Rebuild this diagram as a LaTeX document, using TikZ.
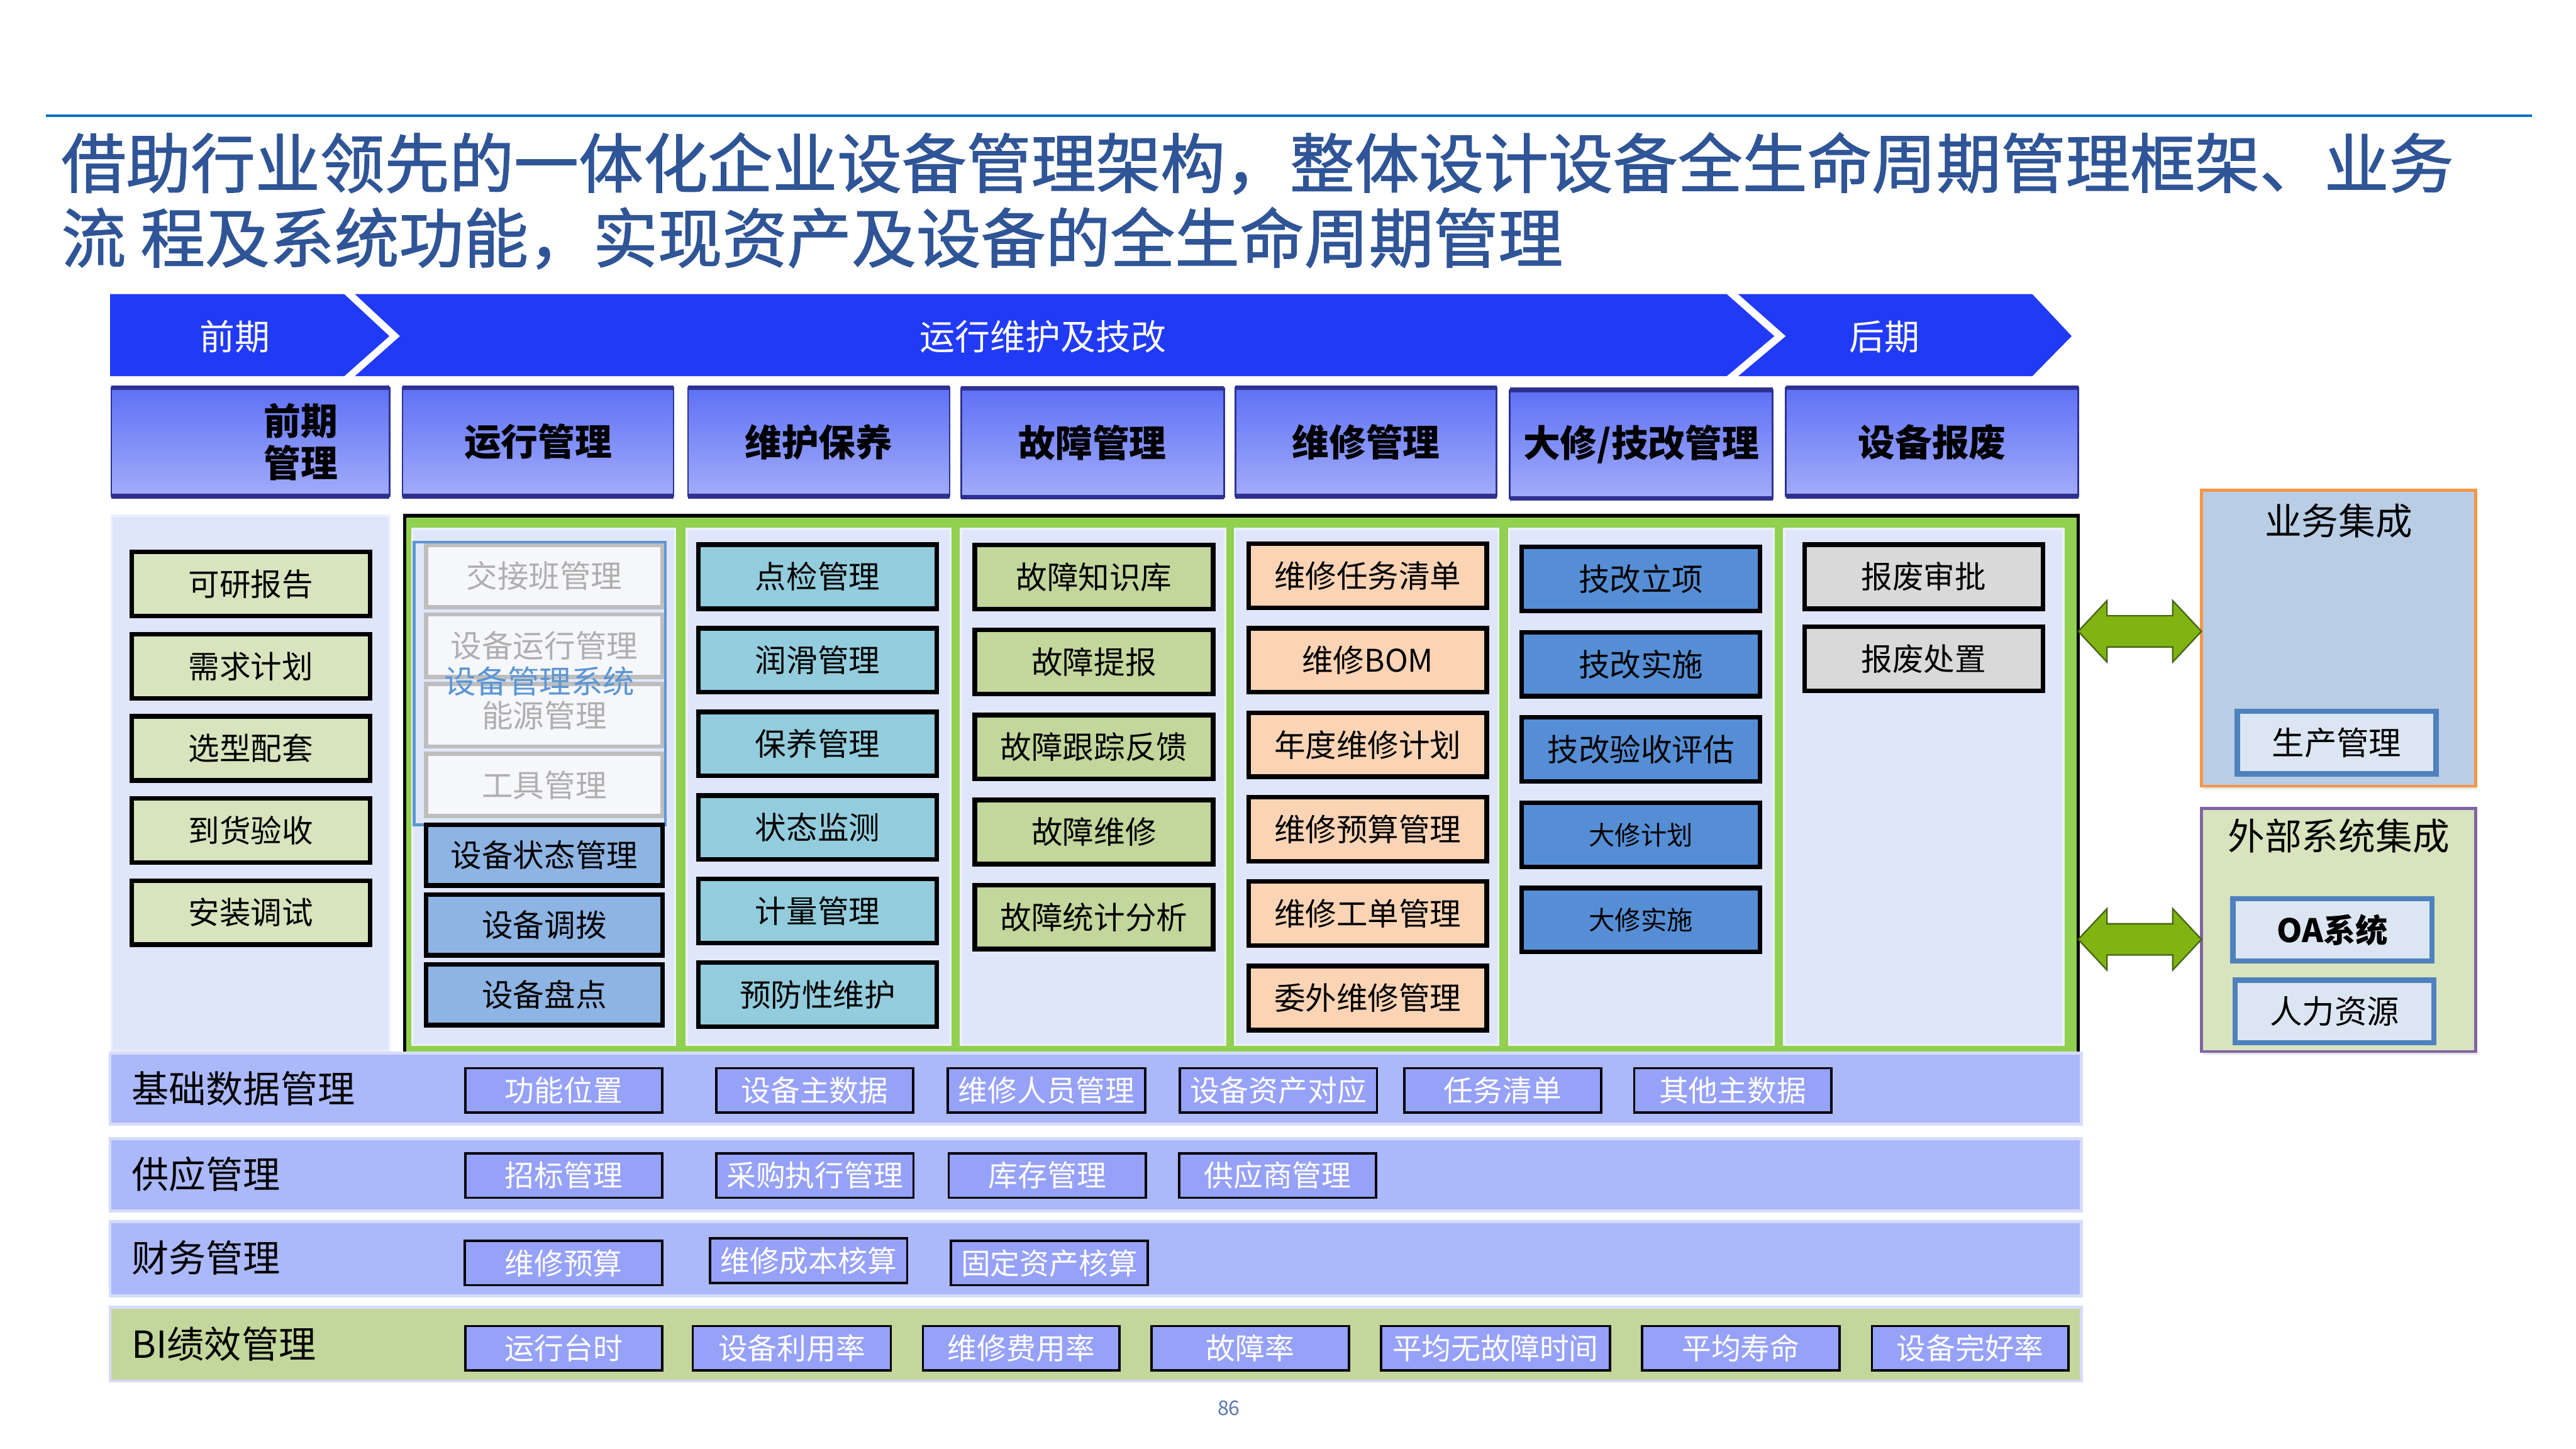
\documentclass[tikz,border=0pt]{standalone}
\usepackage{fontspec}
\setmainfont{Noto Sans CJK SC}
\newfontfamily\titlefont{Noto Sans CJK SC}[FakeBold=1.3]
\usetikzlibrary{calc,shadows}

\definecolor{titleblue}{RGB}{47,85,151}
\definecolor{lineblue}{RGB}{0,112,192}
\definecolor{chevblue}{RGB}{33,58,246}
\definecolor{headtop}{RGB}{94,113,245}
\definecolor{headbot}{RGB}{162,172,249}
\definecolor{headline}{RGB}{46,49,146}
\definecolor{panelbg}{RGB}{224,230,250}
\definecolor{paneledge}{RGB}{236,240,253}
\definecolor{framegreen}{RGB}{146,208,80}
\definecolor{qqfill}{RGB}{215,228,189}
\definecolor{grayfill}{RGB}{246,247,251}
\definecolor{grayedge}{RGB}{190,190,190}
\definecolor{graytext}{RGB}{175,175,175}
\definecolor{sysblue}{RGB}{91,150,213}
\definecolor{yxfill}{RGB}{142,180,227}
\definecolor{whfill}{RGB}{147,205,221}
\definecolor{gzfill}{RGB}{195,214,155}
\definecolor{wxfill}{RGB}{251,212,181}
\definecolor{dxfill}{RGB}{85,142,213}
\definecolor{bffill}{RGB}{217,217,217}
\definecolor{rowfill}{RGB}{171,184,250}
\definecolor{rowedge}{RGB}{214,220,250}
\definecolor{cellfill}{RGB}{150,161,248}
\definecolor{bifill}{RGB}{195,214,155}
\definecolor{bizfill}{RGB}{185,205,229}
\definecolor{bizedge}{RGB}{247,150,70}
\definecolor{subfill}{RGB}{220,230,242}
\definecolor{subedge}{RGB}{79,129,189}
\definecolor{extfill}{RGB}{215,228,189}
\definecolor{extedge}{RGB}{128,100,162}
\definecolor{arrowgreen}{RGB}{128,180,18}
\definecolor{arrowedge}{RGB}{70,100,20}
\definecolor{pagegray}{RGB}{90,120,170}

\begin{document}
\begin{tikzpicture}[x=0.02cm, y=-0.02cm,
    sz/.style 2 args={minimum width=(#1)*0.02cm, minimum height=(#2)*0.02cm, inner sep=0pt, outer sep=0pt},
    phase/.style={fill=chevblue},
    phasetext/.style={text=white, font=\fontsize{12.2}{14}\selectfont},
    head/.style={sz={#1}{66}, top color=headtop, bottom color=headbot, draw=headline, line width=0.6pt},
    headtext/.style={font=\fontsize{12.8}{14.8}\selectfont\bfseries, align=center},
    panel/.style={fill=panelbg, draw=paneledge, line width=0.8pt},
    item/.style={sz={145}{39}, draw=black, line width=1.6pt, font=\fontsize{10.8}{13}\selectfont},
    grayitem/.style={sz={144}{38}, fill=grayfill, draw=grayedge, line width=1.5pt, text=graytext, font=\fontsize{10.8}{13}\selectfont},
    rowbar/.style={sz={1200}{#1}, fill=rowfill, draw=rowedge, line width=1pt},
    rowlabel/.style={anchor=west, inner sep=0pt, font=\fontsize{12.9}{15}\selectfont},
    cell/.style={sz={#1}{27}, fill=cellfill, draw=black, line width=0.8pt, text=white, font=\fontsize{10.2}{12}\selectfont},
    cell/.default=120,
    intbox/.style={sz={167}{#1}, line width=1pt, drop shadow={opacity=0.2, shadow xshift=0.6pt, shadow yshift=-1.2pt}},
    intitle/.style={font=\fontsize{12.8}{15}\selectfont},
    subsys/.style={sz={121}{38}, fill=subfill, draw=subedge, line width=1.8pt, font=\fontsize{11.2}{13}\selectfont},
    fatarrow/.style={fill=arrowgreen, draw=arrowedge, line width=0.5pt, line join=miter},
    titletext/.style={anchor=west, inner sep=0pt, text=titleblue, font=\fontsize{22.4}{26}\titlefont}
  ]
  \useasboundingbox (0,0) rectangle (1568,882);

  % title
  \draw[lineblue, line width=0.8pt] (28,70.5) -- (1541,70.5);
  \node[titletext] (title1) at (37,99.5) {借助行业领先的一体化企业设备管理架构，整体设计设备全生命周期管理框架、业务};
  \node[titletext] (title2) at (37,145) {流 程及系统功能，实现资产及设备的全生命周期管理};

  % phases
  \fill[phase] (67,179) -- (209.5,179) -- (237,204.6) -- (209.5,229) -- (67,229) -- cycle;
  \fill[phase] (216,179) -- (1051,179) -- (1080,204.6) -- (1051,229) -- (216,229) -- (243.5,204.6) -- cycle;
  \fill[phase] (1058,179) -- (1237,179) -- (1261,204.6) -- (1237,229) -- (1058,229) -- (1087,204.6) -- cycle;
  \node[phasetext] (ph1) at (143,205) {前期};
  \node[phasetext] (ph2) at (635,205) {运行维护及技改};
  \node[phasetext] (ph3) at (1147,205) {后期};

  % module headers
  \node[head=169.3] (hd1) at (152.4,269) {};
  \node[headtext] (hd1t) at (183,269) {前期\\管理};
  \node[head=165, headtext] (hd2) at (327.5,269) {运行管理};
  \node[head=159.3, headtext] (hd3) at (498.4,269) {维护保养};
  \node[head=160, headtext] (hd4) at (665,269.5) {故障管理};
  \node[head=159, headtext] (hd5) at (831.5,269) {维修管理};
  \node[head=160, headtext] (hd6) at (999,270.4) {大修/技改管理};
  \node[head=178, headtext] (hd7) at (1176,269) {设备报废};
  \foreach \h in {hd1,hd2,hd3,hd4,hd5,hd6,hd7}
    \draw[headline, line width=1.6pt] (\h.north west) -- (\h.north east) (\h.south west) -- (\h.south east);

  % early stage
  \node[panel, sz={169}{326}] (qqpanel) at (152.5,477) {};
  \foreach \t [count=\i] in {可研报告,需求计划,选型配套,到货验收,安装调试}
    \node[item, fill=qqfill] (qq\i) at (152.7,{355.5+50*(\i-1)}) {\t};

  % operation frame
  \node[fill=framegreen, sz={1018.6}{326}] (main) at (755.7,477) {};
  \draw[black, line width=1.2pt] (main.south west) -- (main.north west) -- (main.north east) -- (main.south east);
  \foreach \a/\b [count=\i] in {251/411, 418/578.6, 585/745.8, 751.6/912, 918.5/1079.7, 1086/1256}
    \node[panel, sz={\b-\a}{314}] (col\i) at ({(\a+\b)/2},479) {};

  \foreach \t [count=\i] in {交接班管理,设备运行管理,能源管理,工具管理}
    \node[grayitem] (yg\i) at (331.3,{350.6+42.4*(\i-1)}) {\t};
  \node[draw=sysblue, line width=1pt, sz={153}{172}] (sysframe) at (328.5,416) {};
  \node[text=sysblue, font=\fontsize{11}{13}\selectfont] (systxt) at (328.4,414.8) {设备管理系统};
  \foreach \t [count=\i] in {设备状态管理,设备调拨,设备盘点}
    \node[item, sz={144}{37}, fill=yxfill] (yx\i) at (331.3,{520.5+42.5*(\i-1)}) {\t};

  \foreach \t [count=\i] in {点检管理,润滑管理,保养管理,状态监测,计量管理,预防性维护}
    \node[item, fill=whfill] (wh\i) at (497.7,{351+50.9*(\i-1)}) {\t};
  \foreach \t [count=\i] in {故障知识库,故障提报,故障跟踪反馈,故障维修,故障统计分析}
    \node[item, fill=gzfill] (gz\i) at (665.9,{351.2+51.75*(\i-1)}) {\t};
  \foreach \t [count=\i] in {维修任务清单,维修BOM,年度维修计划,维修预算管理,维修工单管理,委外维修管理}
    \node[item, fill=wxfill] (wx\i) at (832.5,{350.5+51.4*(\i-1)}) {\t};
  \foreach \t/\f [count=\i] in {技改立项/10.8,技改实施/10.8,技改验收评估/10.8,大修计划/9,大修实施/9}
    \node[item, fill=dxfill, font=\fontsize{\f}{12}\selectfont] (dx\i) at (998.8,{352.4+51.9*(\i-1)}) {\t};
  \foreach \t [count=\i] in {报废审批,报废处置}
    \node[item, fill=bffill] (bf\i) at (1171,{351+50*(\i-1)}) {\t};

  % integration
  \node[intbox=180, fill=bizfill, draw=bizedge] (biz) at (1423.5,388.5) {};
  \node[intitle] (biztitle) at (1423.5,317) {业务集成};
  \node[subsys] (scgl) at (1422.3,452) {生产管理};
  \node[intbox=148, fill=extfill, draw=extedge] (ext) at (1423.5,566) {};
  \node[intitle] (exttitle) at (1423.5,509) {外部系统集成};
  \node[subsys] (oa) at (1419.7,566) {\bfseries OA系统};
  \node[subsys] (hr) at (1421,615.6) {人力资源};

  \coordinate (ar1s) at (main.east |- 0,384.3);
  \coordinate (ar1e) at (biz.west |- 0,384.3);
  \coordinate (ar2s) at (main.east |- 0,571.8);
  \coordinate (ar2e) at (ext.west |- 0,571.8);
  \foreach \s/\e in {ar1s/ar1e, ar2s/ar2e}
    \draw[fatarrow] (\s) -- ($(\s)+(17.5,-18.7)$) -- ($(\s)+(17.5,-9.5)$) -- ($(\e)+(-17.5,-9.5)$) -- ($(\e)+(-17.5,-18.7)$) -- (\e) -- ($(\e)+(-17.5,18.7)$) -- ($(\e)+(-17.5,9.5)$) -- ($(\s)+(17.5,9.5)$) -- ($(\s)+(17.5,18.7)$) -- cycle;

  % base layers
  \node[rowbar=43.3] (jc) at (667,662.6) {};
  \node[rowlabel] (jclab) at (79.8,662.5) {基础数据管理};
  \foreach \x/\t [count=\i] in {343.2/功能位置, 495.9/设备主数据, 637/维修人员管理, 778.1/设备资产对应, 914.7/任务清单, 1054.7/其他主数据}
    \node[cell] (jc\i) at (\x,663.7) {\t};

  \node[rowbar=44] (gy) at (667,715) {};
  \node[rowlabel] (gylab) at (79.8,714.5) {供应管理};
  \foreach \x/\t [count=\i] in {343.2/招标管理, 496/采购执行管理, 637.5/库存管理, 777.7/供应商管理}
    \node[cell] (gy\i) at (\x,715.5) {\t};

  \node[rowbar=45] (cw) at (667,766.2) {};
  \node[rowlabel] (cwlab) at (79.8,765.5) {财务管理};
  \node[cell] (cw1) at (343,768.8) {维修预算};
  \node[cell] (cw2) at (492.2,767.3) {维修成本核算};
  \node[cell] (cw3) at (638.7,768.8) {固定资产核算};

  \node[rowbar=45, fill=bifill] (bi) at (667,818.2) {};
  \node[rowlabel] (bilab) at (79.8,818) {BI绩效管理};
  \foreach \x/\w/\t [count=\i] in {343.2/120/运行台时, 482/120.6/设备利用率, 621.6/119.7/维修费用率, 761/120/故障率, 910.3/139.4/平均无故障时间, 1059.6/120/平均寿命, 1199.2/119.6/设备完好率}
    \node[cell=\w] (bi\i) at (\x,820.6) {\t};

  \node[text=pagegray, font=\fontsize{7}{8}\selectfont] (page) at (748,857) {86};
\end{tikzpicture}
\end{document}
